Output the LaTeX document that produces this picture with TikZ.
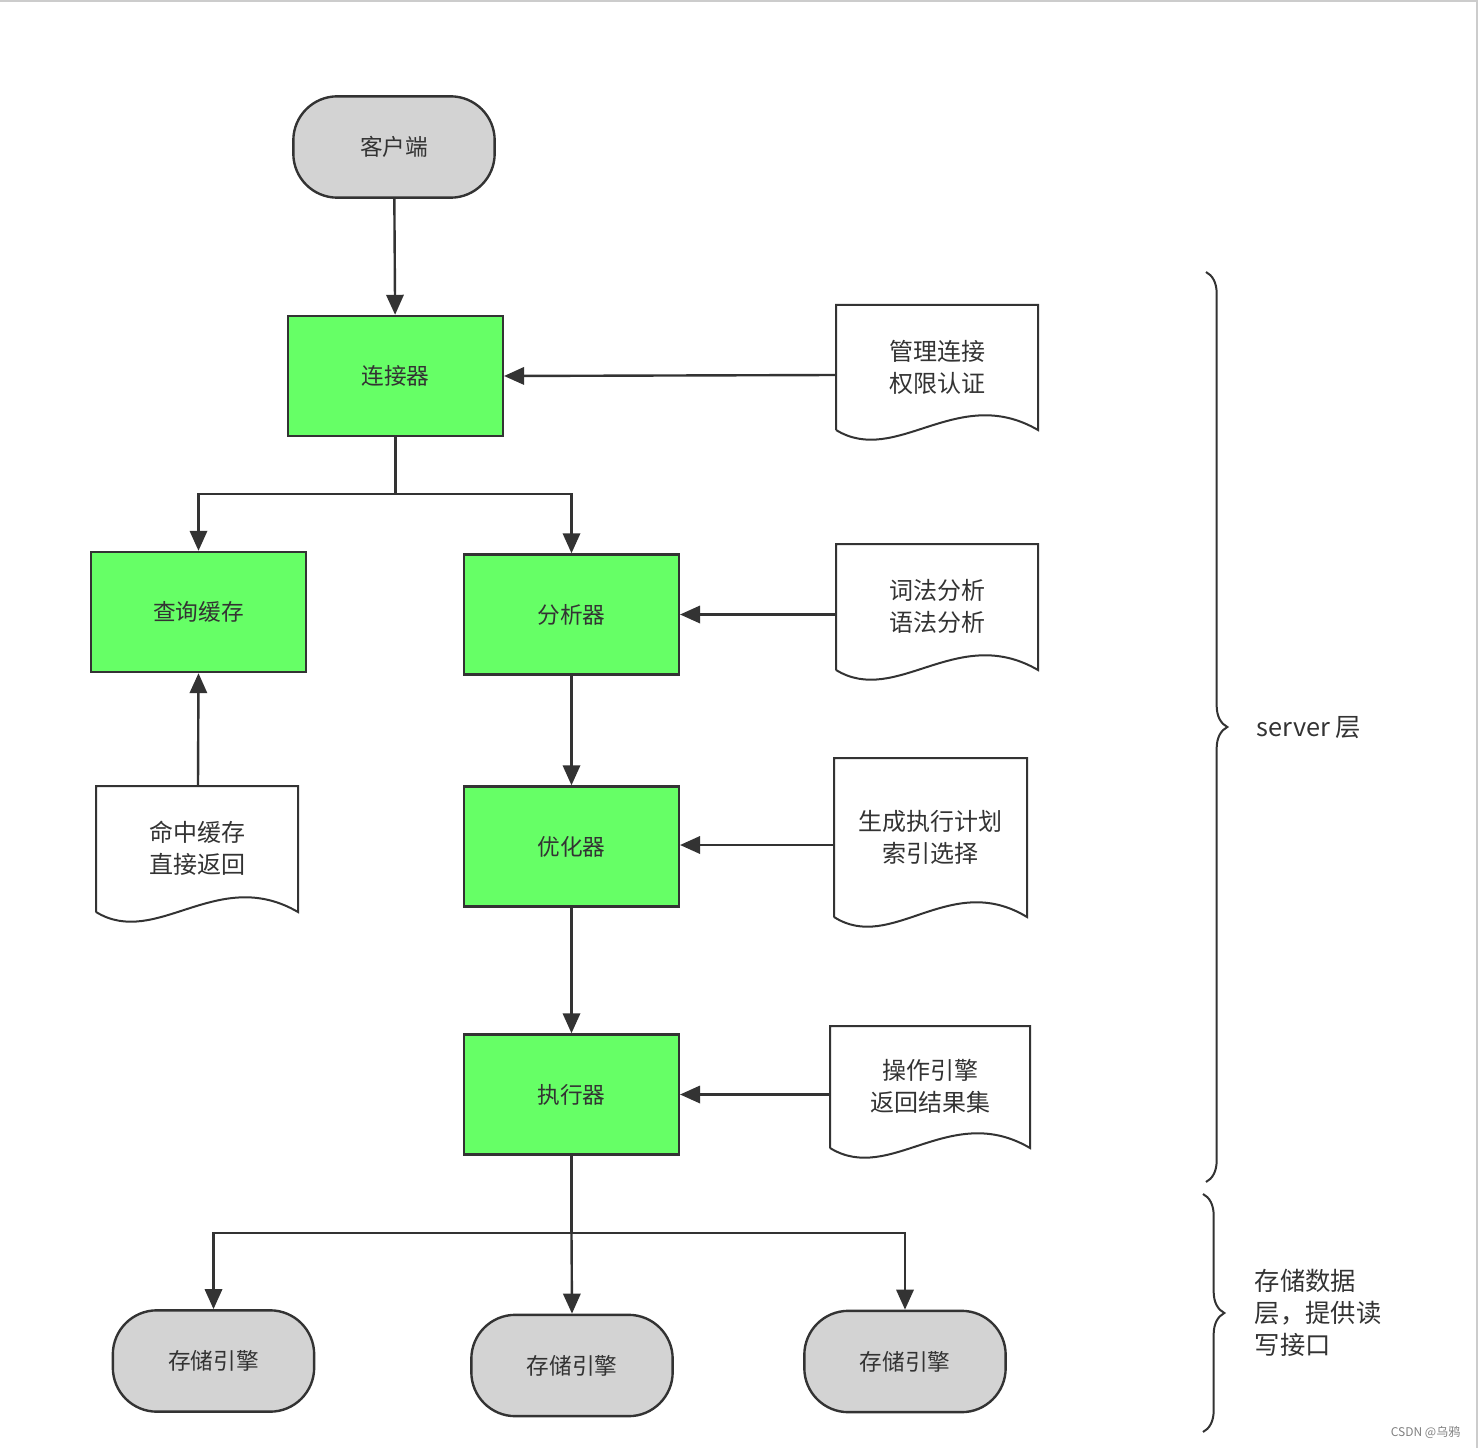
\documentclass[tikz,border=0pt]{standalone}
\usepackage{fontspec}
\setmainfont{Noto Sans CJK SC}
\usetikzlibrary{arrows.meta,decorations.pathreplacing}
\definecolor{boxg}{HTML}{66FF66}
\definecolor{term}{HTML}{D3D3D3}
\definecolor{ink}{HTML}{333333}
\tikzset{
  every node/.style={font=\fontsize{17}{21}\selectfont, text=ink},
  box/.style={draw=ink, line width=1.8pt, fill=boxg, minimum width=161pt, minimum height=90pt, inner sep=0pt},
  term/.style={draw=ink, line width=1.8pt, fill=term, rounded corners=33pt, minimum width=151pt, minimum height=76pt, inner sep=0pt},
  arr/.style={draw=ink, line width=1.8pt, -{Triangle[length=15pt,width=13pt]}},
  ln/.style={draw=ink, line width=1.8pt},
  doc/.style={draw=ink, line width=1.5pt, fill=white},
  brace/.style={draw=ink, line width=1.5pt, decorate, decoration={brace, amplitude=16pt}},
}
\newcommand\docnode[6]{%
  \draw[doc] (#2,{#5-15}) -- (#2,#3) -- (#4,#3) -- (#4,{#5-15})
    .. controls ({#2+0.6*(#4-#2)},{#5-62}) and ({#2+0.3*(#4-#2)},{#5+22}) .. (#2,{#5-15});
  \node[align=center, font=\fontsize{18}{24}\selectfont] (#1) at ({(#2+#4)/2},{(#3+#5)/2-8}) {#6};
  \coordinate (#1-l) at (#2,{(#3+#5)/2});
}
\begin{document}
\begin{tikzpicture}[x=0.75pt,y=-0.75pt]
\useasboundingbox (0,0) rectangle (1479,1448);
\draw[gray!40, line width=1pt] (0,1) -- (1477,1) -- (1477,1448);
\node[term] (client) at (394,147) {客户端};
\node[box] (conn) at (395.5,376) {连接器};
\node[box] (cache) at (198.5,612) {查询缓存};
\node[box] (ana) at (571.5,614.5) {分析器};
\node[box] (opt) at (571.5,846.5) {优化器};
\node[box] (exe) at (571.5,1094.5) {执行器};
\node[term] (se1) at (213.5,1361) {存储引擎};
\node[term] (se2) at (572,1365.5) {存储引擎};
\node[term] (se3) at (905,1361.5) {存储引擎};
\docnode{d1}{836}{305}{1038}{445}{管理连接\\权限认证}
\docnode{d2}{836}{544}{1038}{685}{词法分析\\语法分析}
\docnode{d3}{834}{758}{1027}{932}{生成执行计划\\索引选择}
\docnode{d4}{830}{1026}{1030}{1163}{操作引擎\\返回结果集}
\docnode{d5}{96}{786}{298}{927}{命中缓存\\直接返回}
\coordinate (d5-t) at (198,786);
\draw[arr] (client) -- (conn);
\draw[arr] (d1-l) -- (conn.east);
\draw[arr] (d2-l) -- (ana.east);
\draw[arr] (d3-l) -- (opt.east|-d3-l);
\draw[arr] (d4-l) -- (exe.east|-d4-l);
\coordinate (j1) at (395.5,494);
\draw[ln] (conn.south) -- (j1);
\draw[arr] (j1) -| (cache.north);
\draw[arr] (j1) -| (ana.north);
\draw[arr] (d5-t) -- (cache.south);
\draw[arr] (ana) -- (opt);
\draw[arr] (opt) -- (exe);
\coordinate (j2) at (571.5,1233);
\draw[ln] (exe.south) -- (j2);
\draw[arr] (j2) -| (se1.north);
\draw[arr] (j2) -- (se2.north);
\draw[arr] (j2) -| (se3.north);
\draw[brace] (1206,272) -- (1206,1182);
\node[anchor=west, font=\fontsize{19}{24}\selectfont] (srv) at (1252,728) {server 层};
\draw[brace] (1203,1194) -- (1203,1432);
\node[anchor=west, align=left, font=\fontsize{19}{24}\selectfont] (stl) at (1250,1313) {存储数据\\层，提供读\\写接口};
\node[anchor=east, font=\fontsize{9}{11}\selectfont, text=gray] (wm) at (1465,1432) {CSDN @乌鸦};
\end{tikzpicture}
\end{document}
